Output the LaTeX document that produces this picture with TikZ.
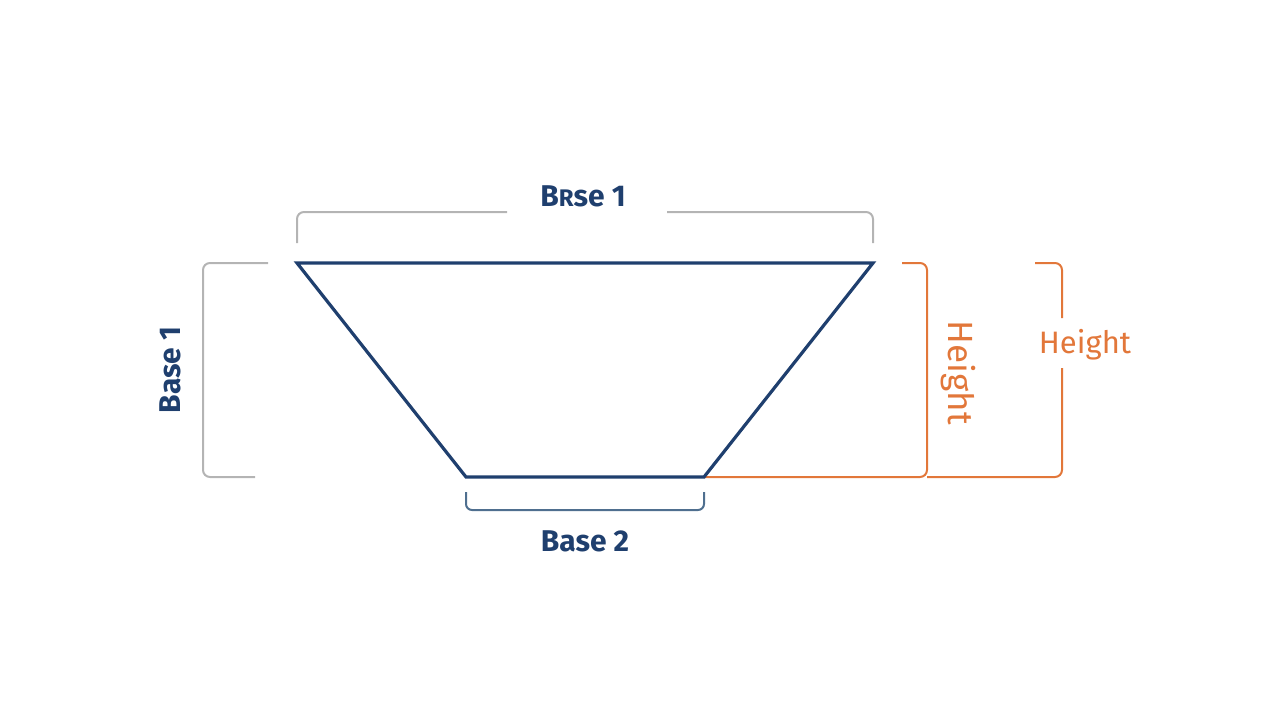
\documentclass[tikz,border=0pt]{standalone}
\usepackage{fontspec}
\setmainfont{Fira Sans}
\definecolor{navy}{HTML}{1F3F6E}
\definecolor{slate}{HTML}{4F6F8F}
\definecolor{lgray}{HTML}{B4B4B4}
\definecolor{orng}{HTML}{E2773A}
\begin{document}
\begin{tikzpicture}[x=1pt,y=-1pt,
  lbl/.style={font=\fontsize{30}{36}\selectfont\bfseries, inner sep=2pt},
  olbl/.style={text=orng, inner sep=2pt},
  grayb/.style={draw=lgray, line width=2pt, rounded corners=7pt},
  orb/.style={draw=orng, line width=2pt, rounded corners=7pt}]
\useasboundingbox (0,0) rectangle (1280,720);
% trapezoid corners
\coordinate (tl) at (297,263);
\coordinate (tr) at (873,263);
\coordinate (br) at (704,477);
\coordinate (bl) at (466,477);
% labels
\node[lbl, text=navy] (b1top) at (583,196) {B\scalebox{0.8}{R}se 1};
\node[lbl, text=navy, rotate=90] (b1left) at (170,370) {Base 1};
\node[lbl, text=navy] (b2) at (585,541) {Base 2};
\node[olbl, font=\fontsize{35}{40}\selectfont, rotate=-90] (hin) at (958,373) {Height};
\node[olbl, font=\fontsize{31}{36}\selectfont] (hout) at (1085,345) {Height};
% top bracket
\draw[grayb] (297,243) -- (297,212) -- (507,212);
\draw[grayb] (667,212) -- (873,212) -- (873,243);
% left bracket
\draw[grayb] (268,263) -- (203,263) -- (203,477) -- (255,477);
% base 2 bracket
\draw[draw=slate, line width=2pt, rounded corners=6pt] (466,492) -- (466,510) -- (704,510) -- (704,492);
% orange brackets
\draw[orb] (902,263) -- (927,263) -- (927,477) -- (br);
\draw[orb] (927,477) -- (1062,477) -- (1062,368);
\draw[orb] (1062,318) -- (1062,263) -- (1035,263);
% trapezoid
\draw[navy, line width=3.2pt, line join=miter] (tl) -- (tr) -- (br) -- (bl) -- cycle;
\end{tikzpicture}
\end{document}
